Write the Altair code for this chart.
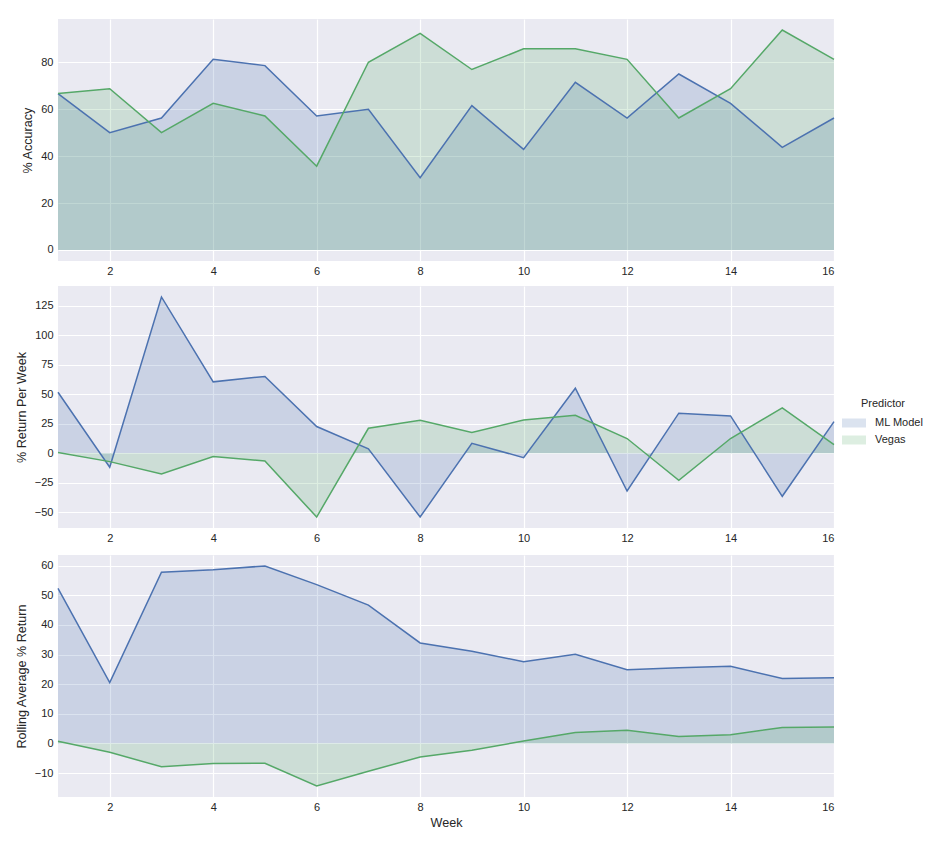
import altair as alt
import pandas as pd

weeks = list(range(1, 17))
predictors = ["ML Model", "Vegas"]

ml_accuracy = [66.67, 50.0, 56.25, 81.25, 78.57, 57.14, 60.0, 30.77,
               61.54, 42.86, 71.43, 56.25, 75.0, 62.5, 43.75, 56.25]
vegas_accuracy = [66.67, 68.75, 50.0, 62.5, 57.14, 35.71, 80.0, 92.31,
                  76.92, 85.71, 85.71, 81.25, 56.25, 68.75, 93.75, 81.25]

ml_return = [51.8, -11.9, 132.6, 60.6, 65.2, 22.7, 3.7, -54.1,
             8.5, -3.7, 55.2, -32.0, 34.0, 31.7, -36.5, 26.9]
vegas_return = [0.6, -7.1, -17.6, -2.8, -6.5, -54.1, 21.2, 28.0,
                17.6, 28.3, 32.3, 12.5, -22.9, 12.5, 38.5, 7.4]

ml_rolling = [52.3, 20.5, 57.8, 58.6, 59.9, 53.6, 46.7, 33.9,
              31.1, 27.6, 30.1, 24.9, 25.5, 26.0, 21.9, 22.2]
vegas_rolling = [0.7, -3.0, -7.9, -6.8, -6.7, -14.4, -9.4, -4.6,
                 -2.3, 0.8, 3.7, 4.4, 2.3, 2.9, 5.4, 5.5]

colors = ["#4C72B0", "#55A868"]
font = "Liberation Sans"
text_color = "#262626"


def long_df(ml, vegas):
    rows = []
    for w, v in zip(weeks, ml):
        rows.append({"Week": w, "Value": v, "Predictor": predictors[0]})
    for w, v in zip(weeks, vegas):
        rows.append({"Week": w, "Value": v, "Predictor": predictors[1]})
    return pd.DataFrame(rows)


def panel(df, ytitle, ydomain, yticks, show_x_title):
    x = alt.X(
        "Week:Q",
        scale=alt.Scale(domain=[1, 16], nice=False, zero=False),
        axis=alt.Axis(values=[2, 4, 6, 8, 10, 12, 14, 16],
                      title="Week" if show_x_title else None),
    )
    y = alt.Y(
        "Value:Q",
        stack=None,
        scale=alt.Scale(domain=ydomain, nice=False, zero=False),
        axis=alt.Axis(values=yticks, title=ytitle),
    )
    color = alt.Color(
        "Predictor:N",
        scale=alt.Scale(domain=predictors, range=colors),
        legend=alt.Legend(
            title="Predictor",
            orient="none",
            legendX=784,
            legendY=379,
            symbolType="M-1,-0.375H1V0.375H-1Z",
            symbolSize=576,
            symbolOpacity=0.2,
            symbolStrokeWidth=0,
            labelOffset=9,
            rowPadding=-1.3,
            titleAnchor="middle",
            titlePadding=2,
        ),
    )
    base = alt.Chart(df).encode(x=x, y=y, color=color)
    area = base.mark_area(fillOpacity=0.2, strokeWidth=0)
    line = base.mark_line(strokeWidth=1.5)
    return alt.layer(area, line).properties(width=776, height=242)


p1 = panel(long_df(ml_accuracy, vegas_accuracy), "% Accuracy",
           [-4.69, 98.44], [0, 20, 40, 60, 80], False)
p2 = panel(long_df(ml_return, vegas_return), "% Return Per Week",
           [-63.4, 141.9], [-50, -25, 0, 25, 50, 75, 100, 125], False)
p3 = panel(long_df(ml_rolling, vegas_rolling), "Rolling Average % Return",
           [-18.1, 63.6], [-10, 0, 10, 20, 30, 40, 50, 60], True)

chart = (
    alt.vconcat(alt.vconcat(p1, p2, spacing=10), p3, spacing=12)
    .properties(padding={"left": 15, "top": 19, "right": 0, "bottom": 0},
                background="white")
    .configure_view(fill="#EAEAF2", stroke=None)
    .configure_axis(
        grid=True,
        gridColor="white",
        gridWidth=1.2,
        domain=False,
        ticks=False,
        labelFont=font,
        labelFontSize=11,
        labelColor=text_color,
        labelPadding=5,
        titleFont=font,
        titleFontSize=12.6,
        titleFontWeight="normal",
        titleColor=text_color,
        titlePadding=6,
    )
    .configure_axisX(labelPadding=4, titlePadding=4)
    .configure_legend(
        labelFont=font,
        labelFontSize=11,
        labelColor=text_color,
        titleFont=font,
        titleFontSize=11,
        titleFontWeight="normal",
        titleColor=text_color,
        padding=0,
    )
)

chart.save("out.html", embed_options={"renderer": "svg", "actions": False})
